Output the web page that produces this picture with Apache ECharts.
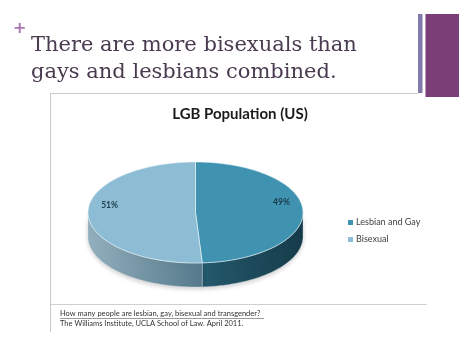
<!DOCTYPE html>
<html>
<head>
<meta charset="utf-8">
<script src="https://cdn.jsdelivr.net/npm/echarts@6/dist/echarts.min.js"></script>
<style>
html,body{margin:0;padding:0;background:#fff;}
#c{width:474px;height:355px;}
</style>
</head>
<body>
<div id="c"></div>
<script>
// ---- data ----
const categories = ['Lesbian and Gay', 'Bisexual'];
const shares = [49, 51];
const shareLabels = ['49%', '51%'];
const slideTitle = ['There are more bisexuals than', 'gays and lesbians combined.'];
const chartTitle = 'LGB Population (US)';
const sourceLines = ['How many people are lesbian, gay, bisexual and transgender?',
                     'The Williams Institute, UCLA School of Law. April 2011.'];

// ---- styling ----
const topColors = ['#3f93b0', '#8dbdd4'];
const sideColors = [['#24596c', '#163b4a'], ['#93afbd', '#557a8b']];
const pieGeom = {cx: 195.5, cy: 212.5, rx: 107.5, ry: 50.5, depth: 24};

const chart = echarts.init(document.getElementById('c'), null, {renderer: 'canvas'});

function ptAt(t, dy) {
  return [pieGeom.cx + pieGeom.rx * Math.sin(t), pieGeom.cy - pieGeom.ry * Math.cos(t) + (dy || 0)];
}

function renderItem(params, api) {
  const i = params.dataIndexInside;
  let total = 0, before = 0;
  const n = params.dataInsideLength;
  for (let j = 0; j < n; j++) {
    const v = api.value(0, j);
    total += v;
    if (j < i) before += v;
  }
  const v = api.value(0, i);
  const a0 = before / total * Math.PI * 2;
  const a1 = (before + v) / total * Math.PI * 2;
  const children = [];
  // top face
  const topPts = [[pieGeom.cx, pieGeom.cy]];
  const steps = Math.max(8, Math.ceil((a1 - a0) / (Math.PI / 180)));
  for (let k = 0; k <= steps; k++) topPts.push(ptAt(a0 + (a1 - a0) * k / steps));
  children.push({
    type: 'polygon', z2: 20,
    shape: {points: topPts},
    style: {fill: topColors[i], stroke: 'rgba(235,245,250,0.75)', lineWidth: 0.8, lineJoin: 'round'}
  });
  // side face (front half only)
  const s0 = Math.max(a0, Math.PI / 2), s1 = Math.min(a1, Math.PI * 1.5);
  if (s1 > s0) {
    const st = Math.max(4, Math.ceil((s1 - s0) / (Math.PI / 180)));
    const up = [], down = [];
    for (let k = 0; k <= st; k++) {
      const t = s0 + (s1 - s0) * k / st;
      up.push(ptAt(t));
      down.push(ptAt(t, pieGeom.depth));
    }
    const sc = sideColors[i];
    const xs = up.map(p => p[0]);
    const xmin = Math.min.apply(null, xs), xmax = Math.max.apply(null, xs);
    children.push({
      type: 'polygon', z2: 5,
      shape: {points: up.concat(down.reverse())},
      style: {
        fill: new echarts.graphic.LinearGradient(xmin, 0, xmax, 0, [
          {offset: 0, color: sc[0]},
          {offset: 1, color: sc[1]}
        ], true),
        stroke: 'rgba(210,225,232,0.6)', lineWidth: 0.6,
        shadowBlur: 4, shadowColor: 'rgba(0,0,0,0.18)', shadowOffsetY: 2
      }
    });
  }
  // label
  const mid = (a0 + a1) / 2;
  const lp = [pieGeom.cx + 0.8 * pieGeom.rx * Math.sin(mid), pieGeom.cy - 0.8 * pieGeom.ry * Math.cos(mid) - 9];
  children.push({
    type: 'text', z2: 30,
    x: lp[0], y: lp[1],
    style: {text: shareLabels[i], fill: '#1d3a4c', font: 'bold 8.5px Lato, sans-serif', align: 'center', verticalAlign: 'middle'}
  });
  return {type: 'group', children: children};
}

const option = {
  backgroundColor: '#ffffff',
  animation: false,
  legend: {
    orient: 'vertical', left: 343, top: 213,
    icon: 'rect', itemWidth: 5, itemHeight: 5, itemGap: 8,
    textStyle: {fontSize: 9, color: '#404040', fontFamily: 'Lato, sans-serif', padding: [0, 0, 0, -2]},
    data: categories
  },
  graphic: [
    {type: 'text', left: 13, top: 21, style: {text: '+', fill: '#a774b4', font: 'bold 16px "DejaVu Sans", sans-serif'}},
    {type: 'text', left: 31, top: 32, style: {text: slideTitle.join('\n'), fill: '#4a3b50', font: '21px "DejaVu Serif", serif', lineHeight: 27}},
    {type: 'rect', shape: {x: 418, y: 14, width: 4.5, height: 79}, style: {fill: '#7f7cab'}},
    {type: 'rect', shape: {x: 425.5, y: 14, width: 33.5, height: 83}, style: {fill: '#7a3f77'}},
    {type: 'line', shape: {x1: 50, y1: 93.5, x2: 418, y2: 93.5}, style: {stroke: '#c9c9c9', lineWidth: 1}},
    {type: 'line', shape: {x1: 50.5, y1: 93, x2: 50.5, y2: 332}, style: {stroke: '#c9c9c9', lineWidth: 1}},
    {type: 'line', shape: {x1: 51, y1: 304.5, x2: 427, y2: 304.5}, style: {stroke: '#cfcfcf', lineWidth: 1}},
    {type: 'text', x: 240, y: 114, style: {text: chartTitle, fill: '#1a1a1a', font: 'bold 15px Lato, sans-serif', align: 'center', verticalAlign: 'middle'}},
    {type: 'text', x: 60, y: 314, style: {text: sourceLines[0], fill: '#333', font: '7.5px Lato, sans-serif', verticalAlign: 'middle'}},
    {type: 'line', shape: {x1: 60, y1: 318.5, x2: 264, y2: 318.5}, style: {stroke: '#555', lineWidth: 0.6}},
    {type: 'text', x: 60, y: 324, style: {text: sourceLines[1], fill: '#333', font: '7.5px Lato, sans-serif', verticalAlign: 'middle'}}
  ],
  series: [
    {
      type: 'custom', name: 'LGB', coordinateSystem: 'none',
      renderItem: renderItem,
      data: shares.map(v => [v])
    },
    {
      // legend provider (zero-size)
      type: 'pie', radius: [0, 0], center: [-50, -50], silent: true,
      label: {show: false}, labelLine: {show: false},
      data: categories.map((c, i) => ({name: c, value: shares[i], itemStyle: {color: topColors[i]}}))
    }
  ]
};
chart.setOption(option);
</script>
</body>
</html>
